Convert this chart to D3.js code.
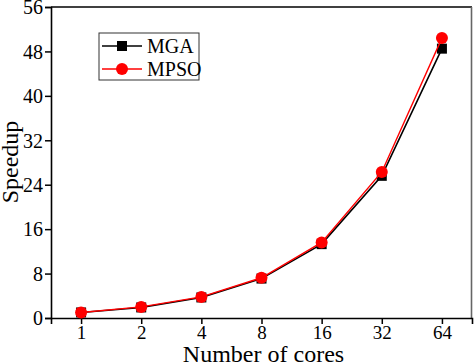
<!DOCTYPE html>
<html>
<head>
<meta charset="utf-8">
<script src="https://cdn.jsdelivr.net/npm/d3@7"></script>
<style>
  body { margin: 0; background: #fff; }
  svg { display: block; font-family: "Liberation Serif", "Times New Roman", serif; }
</style>
</head>
<body>
<div id="svgContainer"></div>
<script>
// data
var cores = ["1", "2", "4", "8", "16", "32", "64"];
var mga = [1.0, 1.9, 3.7, 7.1, 13.3, 25.6, 48.5];
var mpso = [1.0, 2.0, 3.8, 7.25, 13.6, 26.3, 50.4];
var yTicks = [0, 8, 16, 24, 32, 40, 48, 56];

var W = 474, H = 363;
var margin = {top: 7, right: 2, bottom: 45, left: 51};

var svg = d3.select("#svgContainer")
    .append("svg")
    .attr("width", W)
    .attr("height", H);

// x: categorical positions with half a step of padding each side
var x = d3.scaleLinear()
    .domain([-0.5, cores.length - 0.5])
    .range([margin.left, W - margin.right]);

var y = d3.scaleLinear()
    .domain([0, 56])
    .range([H - margin.bottom, margin.top]);

// frame (top and right)
svg.append("line")
    .attr("x1", x.range()[0]).attr("x2", x.range()[1])
    .attr("y1", y(56)).attr("y2", y(56))
    .style("stroke", "#000").style("stroke-width", 1.6);
svg.append("line")
    .attr("x1", x.range()[1] - 0.5).attr("x2", x.range()[1] - 0.5)
    .attr("y1", y(56)).attr("y2", y(0))
    .style("stroke", "#666").style("stroke-width", 1.6);

// axes
var xAxis = svg.append("g")
    .attr("transform", "translate(0," + y(0) + ")")
    .call(d3.axisBottom(x)
        .tickValues(d3.range(cores.length))
        .tickFormat(function(i) { return cores[i]; })
        .tickSize(6).tickPadding(2));

var yAxis = svg.append("g")
    .attr("transform", "translate(" + margin.left + ",0)")
    .call(d3.axisLeft(y).tickValues(yTicks).tickSize(6).tickPadding(2));

[xAxis, yAxis].forEach(function(a) {
    a.select(".domain").style("stroke", "#000").style("stroke-width", 1.6);
    a.selectAll(".tick line").style("stroke", "#000").style("stroke-width", 1.5);
    a.selectAll("text")
        .style("font-family", "Liberation Serif, Times New Roman, serif")
        .style("font-size", "20px")
        .style("fill", "#000");
});
xAxis.selectAll("text").style("font-size", "19px");
yAxis.selectAll("text").attr("dy", "0.34em");

// axis titles
svg.append("text")
    .attr("x", (x.range()[0] + x.range()[1]) / 2 + 2)
    .attr("y", 362)
    .attr("text-anchor", "middle")
    .style("font-size", "24px")
    .text("Number of cores");

svg.append("text")
    .attr("transform", "translate(18,162) rotate(-90)")
    .attr("text-anchor", "middle")
    .style("font-size", "24px")
    .text("Speedup");

// series
var line = function(vals) {
    return d3.line()
        .x(function(d, i) { return x(i); })
        .y(function(d) { return y(d); })(vals);
};

svg.append("path")
    .attr("d", line(mga))
    .style("fill", "none").style("stroke", "#000").style("stroke-width", 1.6);
svg.selectAll(".sq")
    .data(mga).enter().append("rect")
    .attr("class", "sq")
    .attr("x", function(d, i) { return x(i) - 5; })
    .attr("y", function(d) { return y(d) - 5; })
    .attr("width", 10).attr("height", 10)
    .style("fill", "#000");

svg.append("path")
    .attr("d", line(mpso))
    .style("fill", "none").style("stroke", "#f00").style("stroke-width", 1.4);
svg.selectAll(".dot")
    .data(mpso).enter().append("circle")
    .attr("class", "dot")
    .attr("cx", function(d, i) { return x(i); })
    .attr("cy", function(d) { return y(d); })
    .attr("r", 6)
    .style("fill", "#f00");

// legend
var lg = svg.append("g").attr("transform", "translate(99,33)");
lg.append("rect")
    .attr("width", 100).attr("height", 47)
    .style("fill", "#fff").style("stroke", "#333").style("stroke-width", 1);
var items = [{name: "MGA", color: "#000", sym: "sq"}, {name: "MPSO", color: "#f00", sym: "dot"}];
items.forEach(function(it, k) {
    var cy = 13 + k * 23;
    lg.append("line")
        .attr("x1", 3).attr("x2", 43).attr("y1", cy).attr("y2", cy)
        .style("stroke", it.color).style("stroke-width", 1.5);
    if (it.sym === "sq") {
        lg.append("rect").attr("x", 18).attr("y", cy - 5).attr("width", 10).attr("height", 10)
            .style("fill", it.color);
    } else {
        lg.append("circle").attr("cx", 23).attr("cy", cy).attr("r", 6).style("fill", it.color);
    }
    lg.append("text")
        .attr("x", 48).attr("y", cy + 7)
        .style("font-size", "20px")
        .text(it.name);
});
</script>
</body>
</html>
